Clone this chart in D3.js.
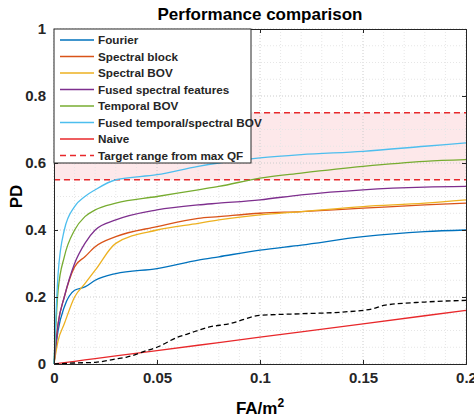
<!DOCTYPE html>
<html><head><meta charset="utf-8">
<script src="https://cdn.jsdelivr.net/npm/d3@7"></script>
<style>body{margin:0;background:#fff;font-family:"Liberation Sans",Arial,sans-serif}</style>
</head><body><div id="chart"></div>
<script>
const seriesNames = ["Fourier","Spectral block","Spectral BOV","Fused spectral features","Temporal BOV","Fused temporal/spectral BOV","Naive"];
const seriesColors = ["#0072bd","#d95319","#edb120","#7e2f8e","#77ac30","#4dbeee","#e8282b"];
const xs = [0,0.002,0.005,0.01,0.015,0.02,0.03,0.05,0.07,0.08,0.1,0.12,0.15,0.18,0.2];
const fourier   = [0,0.1,0.17,0.22,0.23,0.25,0.27,0.285,0.31,0.32,0.34,0.355,0.38,0.395,0.40];
const specBlock = [0,0.12,0.2,0.29,0.32,0.35,0.38,0.41,0.435,0.44,0.45,0.455,0.465,0.475,0.48];
const specBov   = [0,0.07,0.12,0.2,0.24,0.28,0.36,0.40,0.42,0.43,0.445,0.455,0.47,0.48,0.49];
const fusedSpec = [0,0.12,0.2,0.3,0.36,0.4,0.43,0.46,0.475,0.48,0.49,0.505,0.52,0.528,0.53];
const tempBov   = [0,0.22,0.32,0.4,0.44,0.46,0.48,0.50,0.52,0.53,0.555,0.57,0.59,0.605,0.61];
const fusedTemp = [0,0.27,0.40,0.47,0.50,0.52,0.55,0.565,0.59,0.60,0.615,0.625,0.635,0.65,0.66];
const naive     = [0,0.0016,0.004,0.008,0.012,0.016,0.024,0.04,0.056,0.064,0.08,0.096,0.12,0.144,0.16];
const allSeries = [fourier,specBlock,specBov,fusedSpec,tempBov,fusedTemp,naive];
const qfX = [0,0.01,0.02,0.03,0.035,0.045,0.05,0.06,0.065,0.075,0.085,0.1,0.12,0.14,0.155,0.16,0.18,0.2];
const qfY = [0,0.003,0.005,0.015,0.02,0.04,0.05,0.08,0.09,0.11,0.12,0.145,0.15,0.155,0.165,0.175,0.185,0.19];
const targetRange = [0.55,0.75];
const xTicks = [0,0.05,0.1,0.15,0.2];
const yTicks = [0,0.2,0.4,0.6,0.8,1];

const W=474,H=420,m={top:29,right:8,bottom:56,left:54};
const w=W-m.left-m.right,h=H-m.top-m.bottom;
const svg=d3.select("#chart").append("svg").attr("width",W).attr("height",H);
const g=svg.append("g").attr("transform",`translate(${m.left},${m.top})`);
const x=d3.scaleLinear().domain([0,0.2]).range([0,w]);
const y=d3.scaleLinear().domain([0,1]).range([h,0]);

g.append("rect").attr("x",0).attr("y",y(targetRange[1])).attr("width",w)
 .attr("height",y(targetRange[0])-y(targetRange[1])).attr("fill","#fde8ea");
// grid
const grid=g.append("g");
d3.range(0,0.2001,0.01).forEach(v=>grid.append("line").attr("x1",x(v)).attr("x2",x(v)).attr("y1",0).attr("y2",h)
  .attr("stroke",xTicks.some(t=>Math.abs(t-v)<1e-9)?"#ccc":"#e6e6e6").attr("stroke-dasharray","1,2"));
d3.range(0,1.0001,0.05).forEach(v=>grid.append("line").attr("y1",y(v)).attr("y2",y(v)).attr("x1",0).attr("x2",w)
  .attr("stroke",yTicks.some(t=>Math.abs(t-v)<1e-9)?"#ccc":"#e6e6e6").attr("stroke-dasharray","1,2"));

targetRange.forEach(v=>g.append("line").attr("x1",0).attr("x2",w).attr("y1",y(v)).attr("y2",y(v))
  .attr("stroke","#e8282b").attr("stroke-width",1.5).attr("stroke-dasharray","6,4"));

const straight=d3.line().x(d=>x(d[0])).y(d=>y(d[1]));
const smooth=d3.line().x(d=>x(d[0])).y(d=>y(d[1])).curve(d3.curveMonotoneX);
allSeries.forEach((s,i)=>g.append("path")
  .attr("d",(i===6?straight:smooth)(xs.map((v,j)=>[v,s[j]])))
  .attr("fill","none").attr("stroke",seriesColors[i]).attr("stroke-width",1.3));
g.append("path").attr("d",smooth(qfX.map((v,j)=>[v,qfY[j]])))
  .attr("fill","none").attr("stroke","#000").attr("stroke-width",1.3).attr("stroke-dasharray","5,3");

g.append("g").attr("transform",`translate(0,${h})`).call(d3.axisBottom(x).tickValues(xTicks).tickFormat(d3.format("~g")).tickSize(-4).tickPadding(8));
g.append("g").call(d3.axisLeft(y).tickValues(yTicks).tickFormat(d3.format("~g")).tickSize(-4).tickPadding(8));
g.append("g").attr("transform",`translate(${w},0)`).call(d3.axisRight(y).tickValues(yTicks).tickFormat("").tickSize(-4));
g.append("g").call(d3.axisTop(x).tickValues(xTicks).tickFormat("").tickSize(-4));
g.selectAll(".domain").attr("stroke","#262626");
g.selectAll(".tick line").attr("stroke","#262626");
g.selectAll(".tick text").attr("font-size",15).attr("font-weight","bold").attr("fill","#262626");

svg.append("text").attr("x",m.left+w/2).attr("y",20).attr("text-anchor","middle").attr("font-size",17).attr("font-weight","bold").text("Performance comparison");
svg.append("text").attr("x",m.left+w/2).attr("y",H-6).attr("text-anchor","middle").attr("font-size",17).attr("font-weight","bold")
  .html('FA/m<tspan dy="-7" font-size="12">2</tspan>');
svg.append("text").attr("transform",`translate(22,${m.top+h/2}) rotate(-90)`).attr("text-anchor","middle").attr("font-size",17).attr("font-weight","bold").text("PD");

// legend
const lg=g.append("g");
lg.append("rect").attr("x",0).attr("y",0).attr("width",197).attr("height",134).attr("fill","#fff").attr("stroke","#262626");
const legItems=seriesNames.map((n,i)=>({n,c:seriesColors[i],d:null})).concat([{n:"Target range from max QF",c:"#e8282b",d:"6,4"}]);
legItems.forEach((it,i)=>{
  const yy=11+i*16.5;
  lg.append("line").attr("x1",6).attr("x2",40).attr("y1",yy).attr("y2",yy).attr("stroke",it.c).attr("stroke-width",1.4).attr("stroke-dasharray",it.d);
  lg.append("text").attr("x",44).attr("y",yy+4).attr("font-size",11.7).attr("font-weight","bold").attr("fill","#262626").text(it.n);
});
</script></body></html>
